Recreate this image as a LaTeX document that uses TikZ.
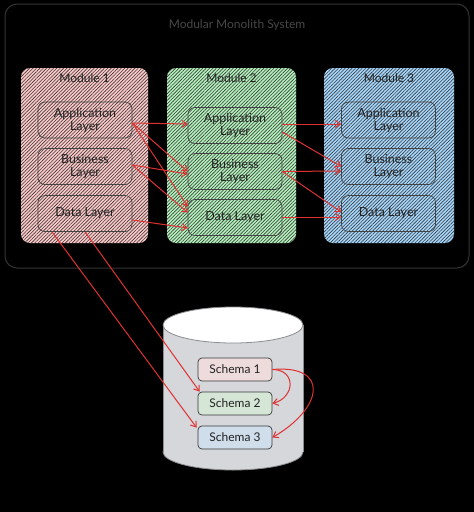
\documentclass[tikz,border=0pt]{standalone}
\usepackage{fontspec}
\setmainfont{Lato}
\usetikzlibrary{arrows.meta,patterns.meta,positioning}
\definecolor{redline}{HTML}{E03131}
\definecolor{mpink}{HTML}{FFC9C9}
\definecolor{mgreen}{HTML}{B2F2BB}
\definecolor{mblue}{HTML}{A5D8FF}
\definecolor{spink}{HTML}{EEDCDC}
\definecolor{sgreen}{HTML}{D5E6D7}
\definecolor{sblue}{HTML}{D0DDEA}
\definecolor{dbfill}{HTML}{D5D7DB}
\definecolor{dbline}{HTML}{8A8C90}
\definecolor{frame}{HTML}{333333}
\definecolor{ink}{HTML}{222222}
\tikzset{
  x=1pt,y=-1pt,
  module/.style={draw=none, rounded corners=9pt, minimum width=#1, minimum height=175pt,
     postaction={pattern={Lines[angle=45,distance=2.4pt,line width=0.6pt]}, pattern color=ink!90}},
  layer/.style={draw=ink!85, rounded corners=7pt, minimum width=94pt, minimum height=36pt,
     align=center, font=\fontsize{12.5}{13}\selectfont, text=ink, line width=0.7pt},
  mtitle/.style={font=\fontsize{12}{13}\selectfont, text=ink},
  schemabox/.style={draw=ink!90, rounded corners=4pt, minimum width=74pt, minimum height=23pt,
     font=\fontsize{12}{13}\selectfont, text=ink, line width=0.7pt},
  conn/.style={draw=redline, line width=1pt, -{Straight Barb[length=5pt,width=7pt]}},
}
\begin{document}
\begin{tikzpicture}
\useasboundingbox (0,0) rectangle (474,512);
\fill[black] (0,0) rectangle (474,512);
% outer frame
\draw[frame, line width=1pt, rounded corners=12pt] (5,4) rectangle (469,268);
\node[font=\fontsize{12}{13}\selectfont, text=frame!90!white] (title) at (237,25) {Modular Monolith System};
% modules
\node[module=127pt, fill=mpink] (m1) at (84.5,155.5) {};
\node[module=129pt, fill=mgreen] (m2) at (231.5,155.5) {};
\node[module=130pt, fill=mblue] (m3) at (389,155.5) {};
\node[mtitle] (m1t) at (84.5,78) {Module 1};
\node[mtitle] (m2t) at (231.5,78) {Module 2};
\node[mtitle] (m3t) at (389,78) {Module 3};
% layers
\node[layer] (m1app) at (85,120) {Application\\Layer};
\node[layer] (m1bus) at (85,166.5) {Business\\Layer};
\node[layer] (m1data) at (85,213.5) {Data Layer};
\node[layer] (m2app) at (235,125.5) {Application\\Layer};
\node[layer] (m2bus) at (235,171.5) {Business\\Layer};
\node[layer] (m2data) at (235,217.5) {Data Layer};
\node[layer] (m3app) at (388.5,120) {Application\\Layer};
\node[layer] (m3bus) at (388.5,166.5) {Business\\Layer};
\node[layer] (m3data) at (388.5,213.5) {Data Layer};
% database cylinder
\filldraw[fill=dbfill, draw=dbline, line width=0.8pt] (233,452) ellipse [x radius=70pt, y radius=18pt];
\fill[dbfill] (163,325) rectangle (303,452);
\draw[dbline, line width=0.8pt] (163,325) -- (163,452);
\draw[dbline, line width=0.8pt] (303,325) -- (303,452);
\filldraw[fill=white, draw=dbline, line width=0.8pt] (233,325) ellipse [x radius=70pt, y radius=18pt];
% schemas
\node[schemabox, fill=spink] (s1) at (235,369.5) {Schema 1};
\node[schemabox, fill=sgreen] (s2) at (235,403.5) {Schema 2};
\node[schemabox, fill=sblue] (s3) at (235,437.5) {Schema 3};
% connectors module 1 -> module 2
\draw[conn] ([yshift=-3pt]m1app.east) -- ([yshift=1.5pt]m2app.west);
\draw[conn] ([yshift=-3pt]m1app.east) -- (m2bus.west);
\draw[conn] ([yshift=-3pt]m1app.east) -- ([yshift=11pt]m2data.west);
\draw[conn] ([yshift=1.5pt]m1bus.east) -- ([yshift=-2.5pt]m2bus.west);
\draw[conn] ([yshift=1.5pt]m1bus.east) -- ([yshift=5pt]m2data.west);
\draw[conn] ([yshift=-6.5pt]m1data.east) -- ([yshift=-10.5pt]m2data.west);
% module 2 -> module 3
\draw[conn] ([yshift=1.5pt]m2app.east) -- ([yshift=-4pt]m3app.west);
\draw[conn] ([yshift=-6.5pt]m2app.east) -- (m3bus.west);
\draw[conn] (m2bus.east) -- ([yshift=-4.5pt]m3bus.west);
\draw[conn] (m2bus.east) -- ([yshift=1.5pt]m3data.west);
\draw[conn] ([yshift=0.5pt]m2data.east) -- ([yshift=-3.5pt]m3data.west);
% data layer -> schemas
\draw[conn] (m1data.south) -- ([xshift=2pt]s2.north west);
\draw[conn] ([xshift=-33pt]m1data.south) -- ([xshift=-1pt,yshift=-2pt]s3.north west);
% schema 1 -> schema 2, 3
\draw[conn] (s1.east) to[out=0,in=15,looseness=1.8] (s2.east);
\draw[conn] (s1.east) to[out=5,in=30,looseness=2.2] (s3.east);
\end{tikzpicture}
\end{document}
